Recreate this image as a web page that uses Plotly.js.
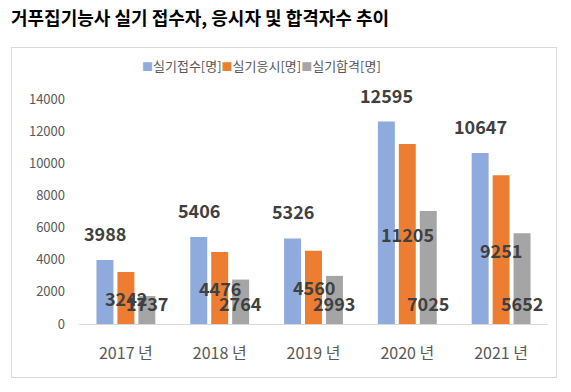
<!DOCTYPE html>
<html><head><meta charset="utf-8">
<script src="https://cdn.plot.ly/plotly-3.0.1.min.js"></script>
<style>
html,body{margin:0;padding:0;background:#fff;}
#wrap{position:relative;width:571px;height:392px;}
#box{position:absolute;left:11px;top:47px;width:546px;height:331px;border:1px solid #d9d9d9;box-sizing:border-box;}
#chart{position:absolute;left:0;top:0;width:571px;height:392px;}
</style></head>
<body><div id="wrap"><div id="box"></div><div id="chart"></div></div>
<script>
const years = ['2017 년','2018 년','2019 년','2020 년','2021 년'];
const applied = [3988, 5406, 5326, 12595, 10647];
const tested = [3242, 4476, 4560, 11205, 9251];
const passed = [1737, 2764, 2993, 7025, 5652];
const seriesNames = ['실기접수[명]','실기응시[명]','실기합격[명]'];
const seriesColors = ['#8faadc','#ed7d31','#a5a5a5'];
const yTicks = [0,2000,4000,6000,8000,10000,12000,14000];

const bargap = 0.33;
const slot = (1 - bargap) / 3;
const FONT = '"Noto Sans CJK KR", "Noto Sans", sans-serif';
const labelFont = {family:FONT, size:18, color:'#404040', weight:'bold'};

const traces = [applied, tested, passed].map((vals, k) => ({
  type:'bar', name:seriesNames[k], x:years, y:vals,
  marker:{color:seriesColors[k]}, hoverinfo:'none'
}));

const annotations = [];
applied.forEach((v,i)=>annotations.push({
  x:i - slot, y:v, xref:'x', yref:'y', text:String(v), showarrow:false,
  yanchor:'bottom', xanchor:'center', yshift:12, font:labelFont}));
tested.forEach((v,i)=>annotations.push({
  x:i, y:v/2, xref:'x', yref:'y', text:String(v), showarrow:false,
  yanchor:'middle', xanchor:'center', font:labelFont}));
passed.forEach((v,i)=>annotations.push({
  x:i + slot, y:0, xref:'x', yref:'y', text:String(v), showarrow:false,
  yanchor:'bottom', xanchor:'center', yshift:6, font:labelFont}));

// legend row
const legendText = seriesNames.map((n,k)=>
  `<span style="color:${seriesColors[k]};font-size:11px">■</span>${n}`).join('');
annotations.push({xref:'paper', yref:'paper', x:(140-79)/469, y:(324-66)/225,
  xanchor:'left', yanchor:'middle', showarrow:false, text:legendText,
  font:{family:FONT, size:13, color:'#595959'}});

const layout = {
  width:571, height:392,
  margin:{l:79, r:23, t:99, b:68},
  paper_bgcolor:'rgba(0,0,0,0)', plot_bgcolor:'rgba(0,0,0,0)',
  font:{family:FONT, color:'#595959'},
  title:{text:'<b>거푸집기능사 실기 접수자, 응시자 및 합격자수 추이</b>',
    xref:'container', yref:'container', x:11/571, xanchor:'left', y:1-19/392, yanchor:'middle',
    font:{size:18, color:'#000000', family:FONT}},
  barmode:'group', bargap:bargap, bargroupgap:0.19,
  showlegend:false,
  xaxis:{type:'category', showline:true, linecolor:'#d9d9d9', linewidth:1, ticks:'',
    showgrid:false, zeroline:false, tickfont:{size:16, color:'#595959'}, ticklabelstandoff:15},
  yaxis:{range:[0,14000], tickvals:yTicks, ticktext:yTicks.map(String), showgrid:false,
    zeroline:false, showline:false, ticks:'', tickfont:{size:13, color:'#595959'}, ticklabelstandoff:13},
  annotations:annotations
};
Plotly.newPlot('chart', traces, layout, {displayModeBar:false, staticPlot:true});
</script></body></html>
